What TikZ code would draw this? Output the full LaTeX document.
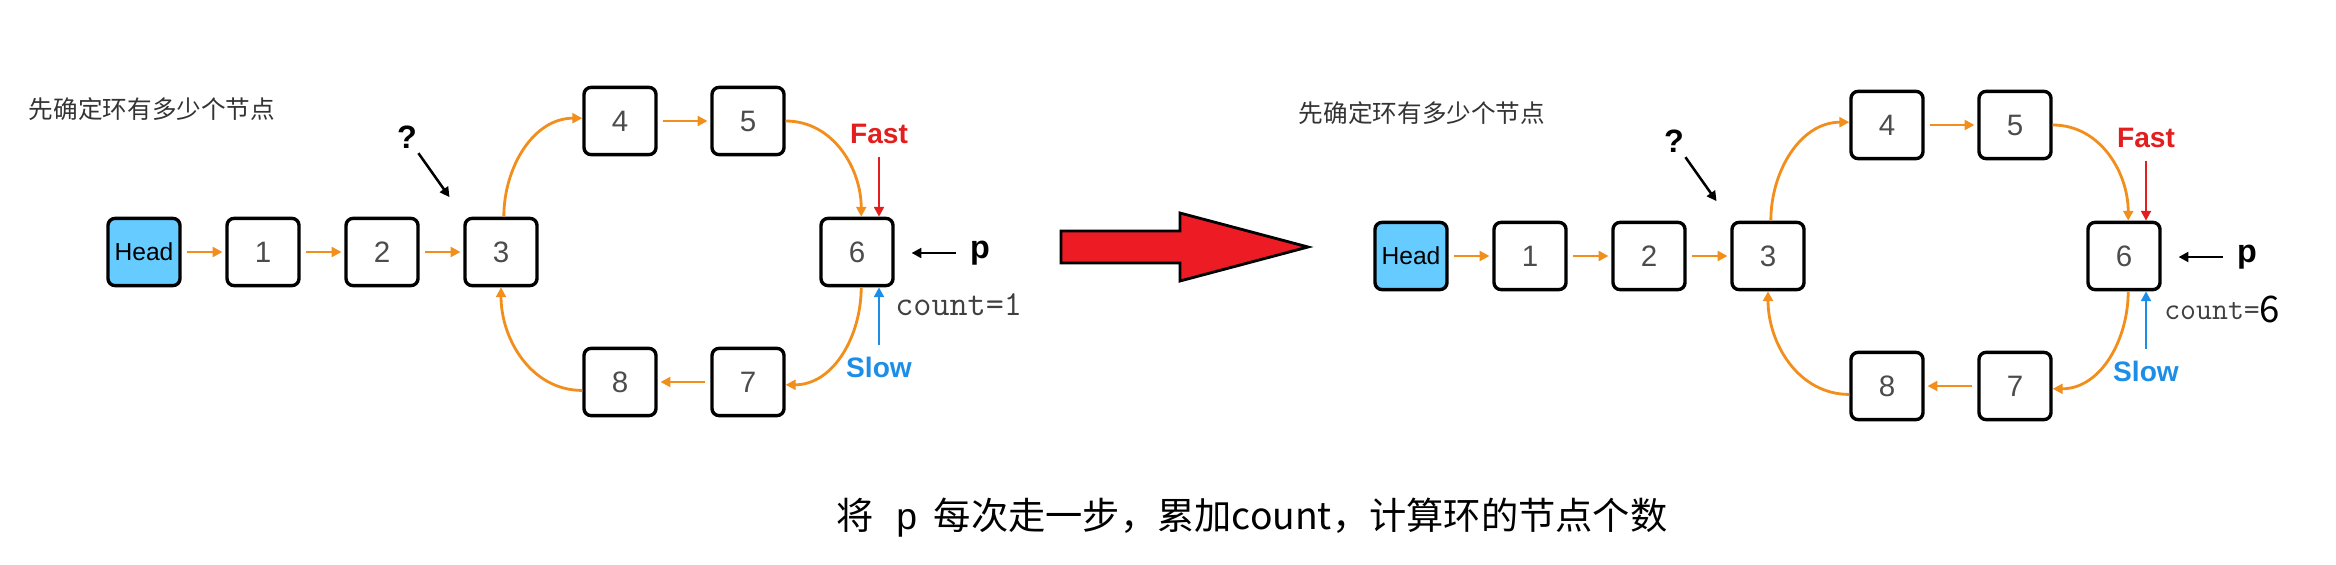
\documentclass[tikz,border=0pt]{standalone}
\usepackage{fontspec}
\setmainfont{Liberation Sans}
\newfontfamily\cjk{Noto Sans CJK SC}
\usetikzlibrary{positioning,arrows.meta}

\definecolor{linkorange}{RGB}{242,142,28}
\definecolor{headblue}{RGB}{102,204,255}
\definecolor{fastred}{RGB}{226,30,30}
\definecolor{slowblue}{RGB}{28,142,232}
\definecolor{bigred}{RGB}{237,28,36}

\begin{document}
\begin{tikzpicture}
	[x=0.025cm,y=-0.025cm,
	box/.style={draw,rounded corners=5pt,line width=2.4pt,minimum width=1.8cm,minimum height=1.68cm,inner sep=0pt,text=black!70,font=\fontsize{21}{21}\selectfont},
	headbox/.style={box,fill=headblue,text=black,font=\fontsize{17.5}{17.5}\selectfont},
	link/.style={draw=linkorange,line width=2pt,-{Triangle[length=7pt,width=7pt]}},
	chain/.style={link,shorten <=3.5pt,shorten >=2pt},
	pointer/.style={line width=1.8pt,-{Triangle[length=7pt,width=7pt]}},
	title/.style={anchor=west,text=black!80,font=\cjk\fontsize{17.5}{17.5}\selectfont},
	qmark/.style={inner sep=0pt,font=\bfseries\fontsize{23}{23}\selectfont},
	tag/.style={inner sep=0pt,font=\bfseries\fontsize{20}{20}\selectfont},
	counter/.style={anchor=west,inner sep=0pt,text=black!75,font=\ttfamily\fontsize{22}{22}\selectfont}]
	\useasboundingbox (0,0) rectangle (2336,565);

	% left: p sits on 6
	\node[title] (ltitle) at (24,109) {先确定环有多少个节点};
	\node[headbox] (lh) at (144,252) {Head};
	\node[box,right=1.09cm of lh] (l1) {1};
	\node[box,right=1.09cm of l1] (l2) {2};
	\node[box,right=1.09cm of l2] (l3) {3};
	\node[box] (l4) at (620,121) {4};
	\node[box,right=1.315cm of l4] (l5) {5};
	\node[box] (l6) at (857,252) {6};
	\node[box] (l7) at (748,382) {7};
	\node[box,left=1.315cm of l7] (l8) {8};
	\draw[chain] (lh) -- (l1);
	\draw[chain] (l1) -- (l2);
	\draw[chain] (l2) -- (l3);
	\draw[link] ([xshift=2pt]l3.north) to[out=90,in=180] ([yshift=2pt]l4.west);
	\draw[chain] (l4) -- (l5);
	\draw[link] (l5.east) to[out=0,in=90] ([xshift=3pt]l6.north);
	\draw[link] ([xshift=3pt]l6.south) to[out=-90,in=0] ([yshift=-2pt]l7.east);
	\draw[chain] (l7) -- (l8);
	\draw[link] ([yshift=-6pt]l8.west) to[out=180,in=-90] (l3.south);
	\node[qmark] (lq) at (407,137) {?};
	\draw[pointer,shorten <=4pt,shorten >=17pt] (lq) -- (l3.north west);
	\node[tag,text=fastred] (lfast) at (879,134) {Fast};
	\draw[pointer,fastred,shorten <=9pt] (lfast) -- (lfast |- l6.north);
	\node[tag,text=slowblue] (lslow) at (879,367) {Slow};
	\draw[pointer,slowblue,shorten <=8pt] (lslow) -- (lslow |- l6.south);
	\node[qmark] (lp) at (980,253) {p};
	\draw[pointer,shorten <=10pt,shorten >=12pt] (lp) -- (lp -| l6.east);
	\node[counter,font=\ttfamily\fontsize{25}{25}\selectfont] (lcount) at (895,305) {count=1};

	% the big arrow between the two steps
	\filldraw[fill=bigred,draw=black,line width=2pt] (1061,231) -- (1180,231) -- (1180,213) -- (1308,247) -- (1180,281) -- (1180,263) -- (1061,263) -- cycle;

	% right: p went once round the loop
	\begin{scope}[shift={(1267,4)}]
	\node[title] (rtitle) at (27,109) {先确定环有多少个节点};
	\node[headbox] (rh) at (144,252) {Head};
	\node[box,right=1.09cm of rh] (r1) {1};
	\node[box,right=1.09cm of r1] (r2) {2};
	\node[box,right=1.09cm of r2] (r3) {3};
	\node[box] (r4) at (620,121) {4};
	\node[box,right=1.315cm of r4] (r5) {5};
	\node[box] (r6) at (857,252) {6};
	\node[box] (r7) at (748,382) {7};
	\node[box,left=1.315cm of r7] (r8) {8};
	\draw[chain] (rh) -- (r1);
	\draw[chain] (r1) -- (r2);
	\draw[chain] (r2) -- (r3);
	\draw[link] ([xshift=2pt]r3.north) to[out=90,in=180] ([yshift=2pt]r4.west);
	\draw[chain] (r4) -- (r5);
	\draw[link] (r5.east) to[out=0,in=90] ([xshift=3pt]r6.north);
	\draw[link] ([xshift=3pt]r6.south) to[out=-90,in=0] ([yshift=-2pt]r7.east);
	\draw[chain] (r7) -- (r8);
	\draw[link] ([yshift=-6pt]r8.west) to[out=180,in=-90] (r3.south);
	\node[qmark] (rq) at (407,137) {?};
	\draw[pointer,shorten <=4pt,shorten >=17pt] (rq) -- (r3.north west);
	\node[tag,text=fastred] (rfast) at (879,134) {Fast};
	\draw[pointer,fastred,shorten <=9pt] (rfast) -- (rfast |- r6.north);
	\node[tag,text=slowblue] (rslow) at (879,367) {Slow};
	\draw[pointer,slowblue,shorten <=8pt] (rslow) -- (rslow |- r6.south);
	\node[qmark] (rp) at (980,253) {p};
	\draw[pointer,shorten <=10pt,shorten >=12pt] (rp) -- (rp -| r6.east);
	\node[counter] (rcount) at (897,305) {count=\raisebox{-2pt}{\textcolor{black}{\cjk\fontsize{26}{26}\selectfont 6}}};
	\end{scope}

	\node[font=\cjk\fontsize{26.5}{26.5}\selectfont] (caption) at (1252,518) {将\hspace{0.6em}\textrm{p}\hspace{0.45em}每次走一步，累加count，计算环的节点个数};
\end{tikzpicture}
\end{document}
